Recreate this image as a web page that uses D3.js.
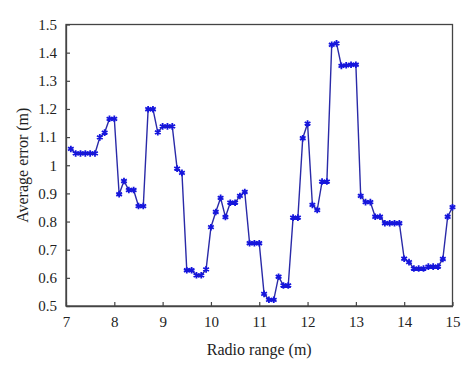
<!DOCTYPE html>
<html>
<head>
<meta charset="utf-8">
<script src="https://cdn.jsdelivr.net/npm/d3@7"></script>
<style>
  body { margin: 0; background: #fff; }
  svg { display: block; }
</style>
</head>
<body>
<div class="chart"></div>
<script>
// radio range (m)
var radioRange = [7.1, 7.2, 7.3, 7.4, 7.5, 7.6, 7.7, 7.8, 7.9, 8.0,
  8.1, 8.2, 8.3, 8.4, 8.5, 8.6, 8.7, 8.8, 8.9, 9.0,
  9.1, 9.2, 9.3, 9.4, 9.5, 9.6, 9.7, 9.8, 9.9, 10.0,
  10.1, 10.2, 10.3, 10.4, 10.5, 10.6, 10.7, 10.8, 10.9, 11.0,
  11.1, 11.2, 11.3, 11.4, 11.5, 11.6, 11.7, 11.8, 11.9, 12.0,
  12.1, 12.2, 12.3, 12.4, 12.5, 12.6, 12.7, 12.8, 12.9, 13.0,
  13.1, 13.2, 13.3, 13.4, 13.5, 13.6, 13.7, 13.8, 13.9, 14.0,
  14.1, 14.2, 14.3, 14.4, 14.5, 14.6, 14.7, 14.8, 14.9, 15.0];

// average error (m)
var avgError = [1.058, 1.042, 1.042, 1.042, 1.042, 1.042, 1.099, 1.116, 1.165, 1.165,
  0.897, 0.944, 0.912, 0.912, 0.855, 0.855, 1.199, 1.199, 1.117, 1.138,
  1.138, 1.138, 0.988, 0.973, 0.627, 0.627, 0.609, 0.609, 0.630, 0.780,
  0.834, 0.884, 0.816, 0.867, 0.867, 0.891, 0.905, 0.723, 0.723, 0.723,
  0.543, 0.522, 0.522, 0.604, 0.573, 0.573, 0.814, 0.814, 1.096, 1.148,
  0.859, 0.841, 0.942, 0.942, 1.428, 1.433, 1.353, 1.355, 1.357, 1.357,
  0.891, 0.869, 0.869, 0.817, 0.817, 0.794, 0.794, 0.794, 0.794, 0.668,
  0.656, 0.633, 0.633, 0.633, 0.640, 0.640, 0.640, 0.667, 0.817, 0.851];

var xTicks = [7, 8, 9, 10, 11, 12, 13, 14, 15];
var yTicks = [0.5, 0.6, 0.7, 0.8, 0.9, 1, 1.1, 1.2, 1.3, 1.4, 1.5];

var serif = "'Liberation Serif', 'Times New Roman', 'DejaVu Serif', serif";

var svgWidth = 474;
var svgHeight = 372;

var margin = { top: 24.5, right: 21.5, bottom: 66, left: 66 };

var width = svgWidth - margin.left - margin.right;
var height = svgHeight - margin.top - margin.bottom;

var svg = d3.select(".chart")
  .append("svg")
  .attr("width", svgWidth)
  .attr("height", svgHeight);

var chartGroup = svg.append("g")
  .attr("transform", `translate(${margin.left}, ${margin.top})`);

var data = radioRange.map((x, i) => ({ x: x, y: avgError[i] }));

var xScale = d3.scaleLinear().domain([7, 15]).range([0, width]);
var yScale = d3.scaleLinear().domain([0.5, 1.5]).range([height, 0]);

var bottomAxis = d3.axisBottom(xScale)
  .tickValues(xTicks)
  .tickSizeInner(-4)
  .tickSizeOuter(0)
  .tickPadding(10)
  .tickFormat(d3.format("d"));

var leftAxis = d3.axisLeft(yScale)
  .tickValues(yTicks)
  .tickSizeInner(-4)
  .tickSizeOuter(0)
  .tickPadding(9)
  .tickFormat(d => d === 1 ? "1" : d3.format(".1f")(d));

// frame
chartGroup.append("rect")
  .attr("width", width)
  .attr("height", height)
  .attr("fill", "none")
  .attr("stroke", "#444")
  .attr("stroke-width", 1.3);

var gx = chartGroup.append("g")
  .attr("transform", `translate(0, ${height})`)
  .call(bottomAxis);
var gy = chartGroup.append("g")
  .call(leftAxis);

[gx, gy].forEach(g => {
  g.attr("font-family", serif).attr("font-size", 15);
  g.selectAll(".tick text").attr("fill", "#222");
  g.select(".domain").attr("stroke", "#444").attr("stroke-width", 1.3);
  g.selectAll(".tick line").attr("stroke", "#444").attr("stroke-width", 1.2);
});

// line
var line = d3.line()
  .x(d => xScale(d.x))
  .y(d => yScale(d.y));

chartGroup.append("path")
  .datum(data)
  .attr("d", line)
  .attr("fill", "none")
  .attr("stroke", "#2a2aa8")
  .attr("stroke-width", 1.4);

// asterisk markers
var star = d3.symbol().type(d3.symbolAsterisk).size(30);
chartGroup.selectAll(".marker")
  .data(data)
  .enter()
  .append("path")
  .attr("class", "marker")
  .attr("transform", d => `translate(${xScale(d.x)}, ${yScale(d.y)})`)
  .attr("d", star)
  .attr("fill", "none")
  .attr("stroke", "#1515dd")
  .attr("stroke-width", 1.8);

// axis labels
chartGroup.append("text")
  .attr("font-family", serif)
  .attr("font-size", 16)
  .attr("fill", "#222")
  .attr("transform", "rotate(-90)")
  .attr("x", 0 - height / 2)
  .attr("y", 0 - margin.left + 28)
  .attr("text-anchor", "middle")
  .text("Average error (m)");

chartGroup.append("text")
  .attr("font-family", serif)
  .attr("font-size", 16)
  .attr("fill", "#222")
  .attr("text-anchor", "middle")
  .attr("transform", `translate(${width / 2}, ${height + 49})`)
  .text("Radio range (m)");
</script>
</body>
</html>
